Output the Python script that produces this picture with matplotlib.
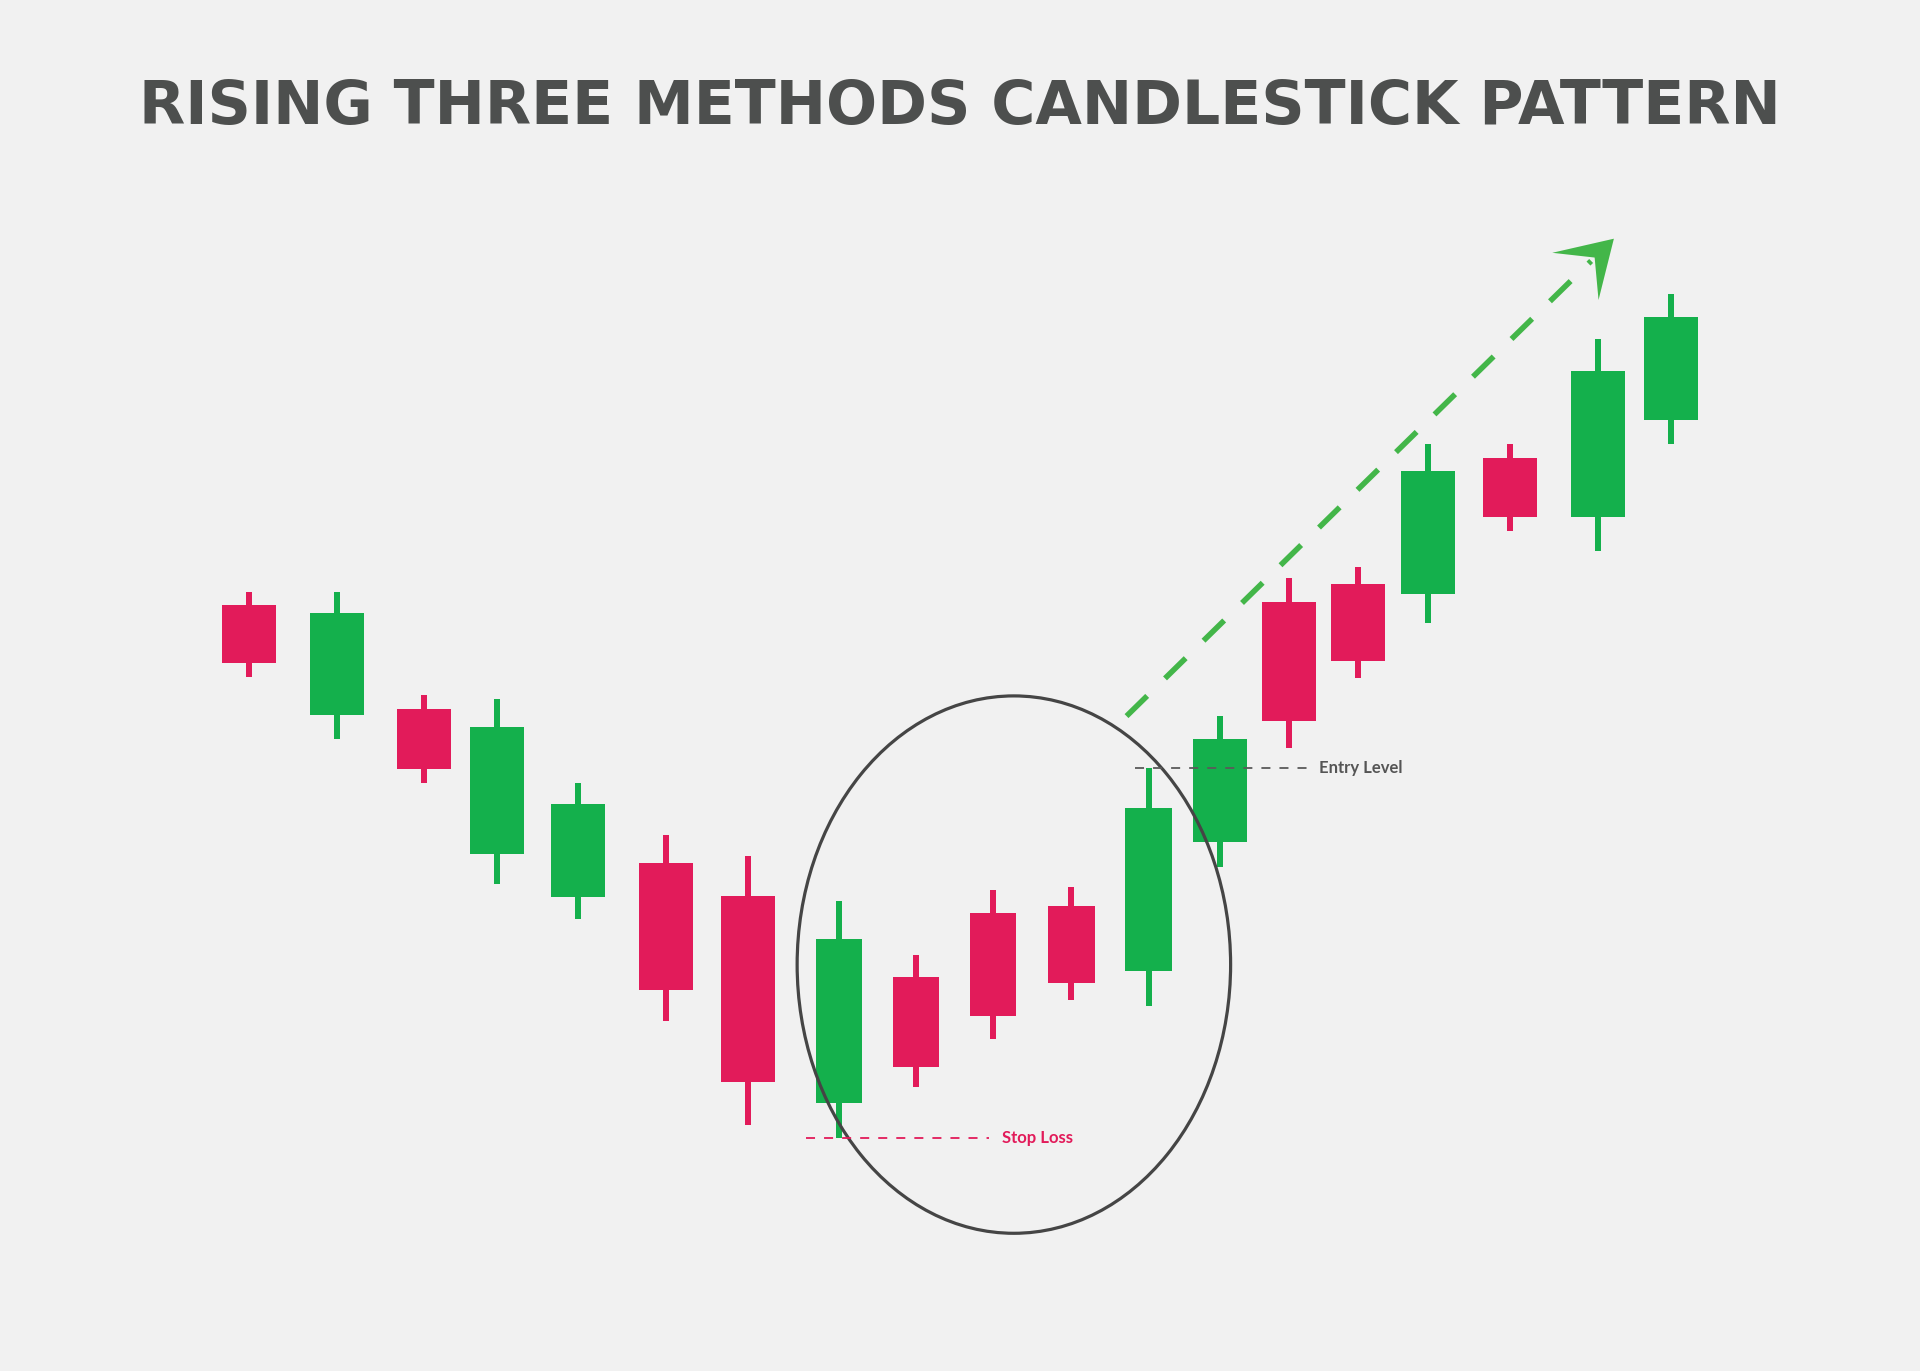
import matplotlib.pyplot as plt
import numpy as np
from matplotlib.patches import Ellipse, Polygon

# candle centres (horizontal position) and OHLC values, price units
pos = [203, 275, 346, 406, 472, 544, 611, 685, 748, 811, 875, 938, 996,
       1053, 1109, 1166, 1233, 1305, 1365]
open_ = [626, 536, 541, 422, 387, 415, 388, 219, 322, 374, 380, 327, 432,
         628, 643, 635, 746, 698, 777]
high = [636, 636, 552, 549, 480, 438, 421, 384, 340, 393, 395, 493, 535,
        648, 657, 757, 757, 843, 880]
low = [567, 516, 480, 398, 369, 286, 201, 190, 232, 271, 303, 298, 412,
       509, 566, 611, 686, 670, 757]
close = [578, 619, 492, 526, 463, 311, 236, 353, 248, 290, 317, 460, 516,
         531, 580, 735, 698, 817, 861]

# pattern candles drawn a bit narrower
narrow = [7, 8, 9, 10, 11]

entry_level = 493
stop_loss = 190
trend_start = (920, 535)
trend_end = (1318, 925)

green = '#14b04c'
red = '#e21b5a'
arrow_green = '#43b649'
bg = '#f1f1f1'

fig = plt.figure(figsize=(19.2, 13.71), dpi=100, facecolor=bg)
ax = fig.add_axes([0, 0, 1, 1])
ax.set_facecolor(bg)
ax.set_xlim(0, 1568)
ax.set_ylim(0, 1120)
ax.axis('off')

for i, x in enumerate(pos):
    o, h, l, c = open_[i], high[i], low[i], close[i]
    col = green if c > o else red
    w = 38 if i in narrow else 44
    ax.bar(x, h - l, bottom=l, width=5, color=col, zorder=2)
    ax.bar(x, abs(c - o), bottom=min(o, c), width=w, color=col, zorder=3)

# circle around the pattern
ax.add_patch(Ellipse((828, 1120 - 788), 354, 439, fill=False,
                     edgecolor='#454545', linewidth=2.3, zorder=4))

# entry level
ax.plot([927, 1072], [entry_level, entry_level], color='#5a5a5a',
        linewidth=1.3, dashes=(5, 5), zorder=5)
ax.text(1077, entry_level, 'Entry Level', color='#555555', fontsize=12,
        fontfamily='Lato', fontweight='bold', va='center', ha='left')

# stop loss
ax.plot([658, 808], [stop_loss, stop_loss], color=red,
        linewidth=1.3, dashes=(5, 5), zorder=5)
ax.text(818, stop_loss, 'Stop Loss', color=red, fontsize=12,
        fontfamily='Lato', fontweight='bold', va='center', ha='left')

# trend arrow
sx, sy = trend_start
ex, ey = trend_end
d = np.array([ex - sx, ey - sy], dtype=float)
d /= np.linalg.norm(d)
n = np.array([-d[1], d[0]])
tip = np.array([ex, ey])
head_len, head_half = 44, 27
base = tip - d * head_len
notch = tip - d * head_len * 0.5
line_end = notch - d * 4
ax.plot([sx, line_end[0]], [sy, line_end[1]], color=arrow_green,
        linewidth=4, dashes=(5.2, 4.5), solid_capstyle='butt', zorder=5)
ax.add_patch(Polygon([tip, base + n * head_half, notch, base - n * head_half],
                     closed=True, facecolor=arrow_green, edgecolor='none',
                     zorder=6))

ax.text(784, 1120 - 88, 'RISING THREE METHODS CANDLESTICK PATTERN',
        color='#4d4f4e', fontsize=43.3, fontfamily='DejaVu Sans',
        fontweight='bold', ha='center', va='center')

fig.savefig('out.png', dpi=100, facecolor=bg)
